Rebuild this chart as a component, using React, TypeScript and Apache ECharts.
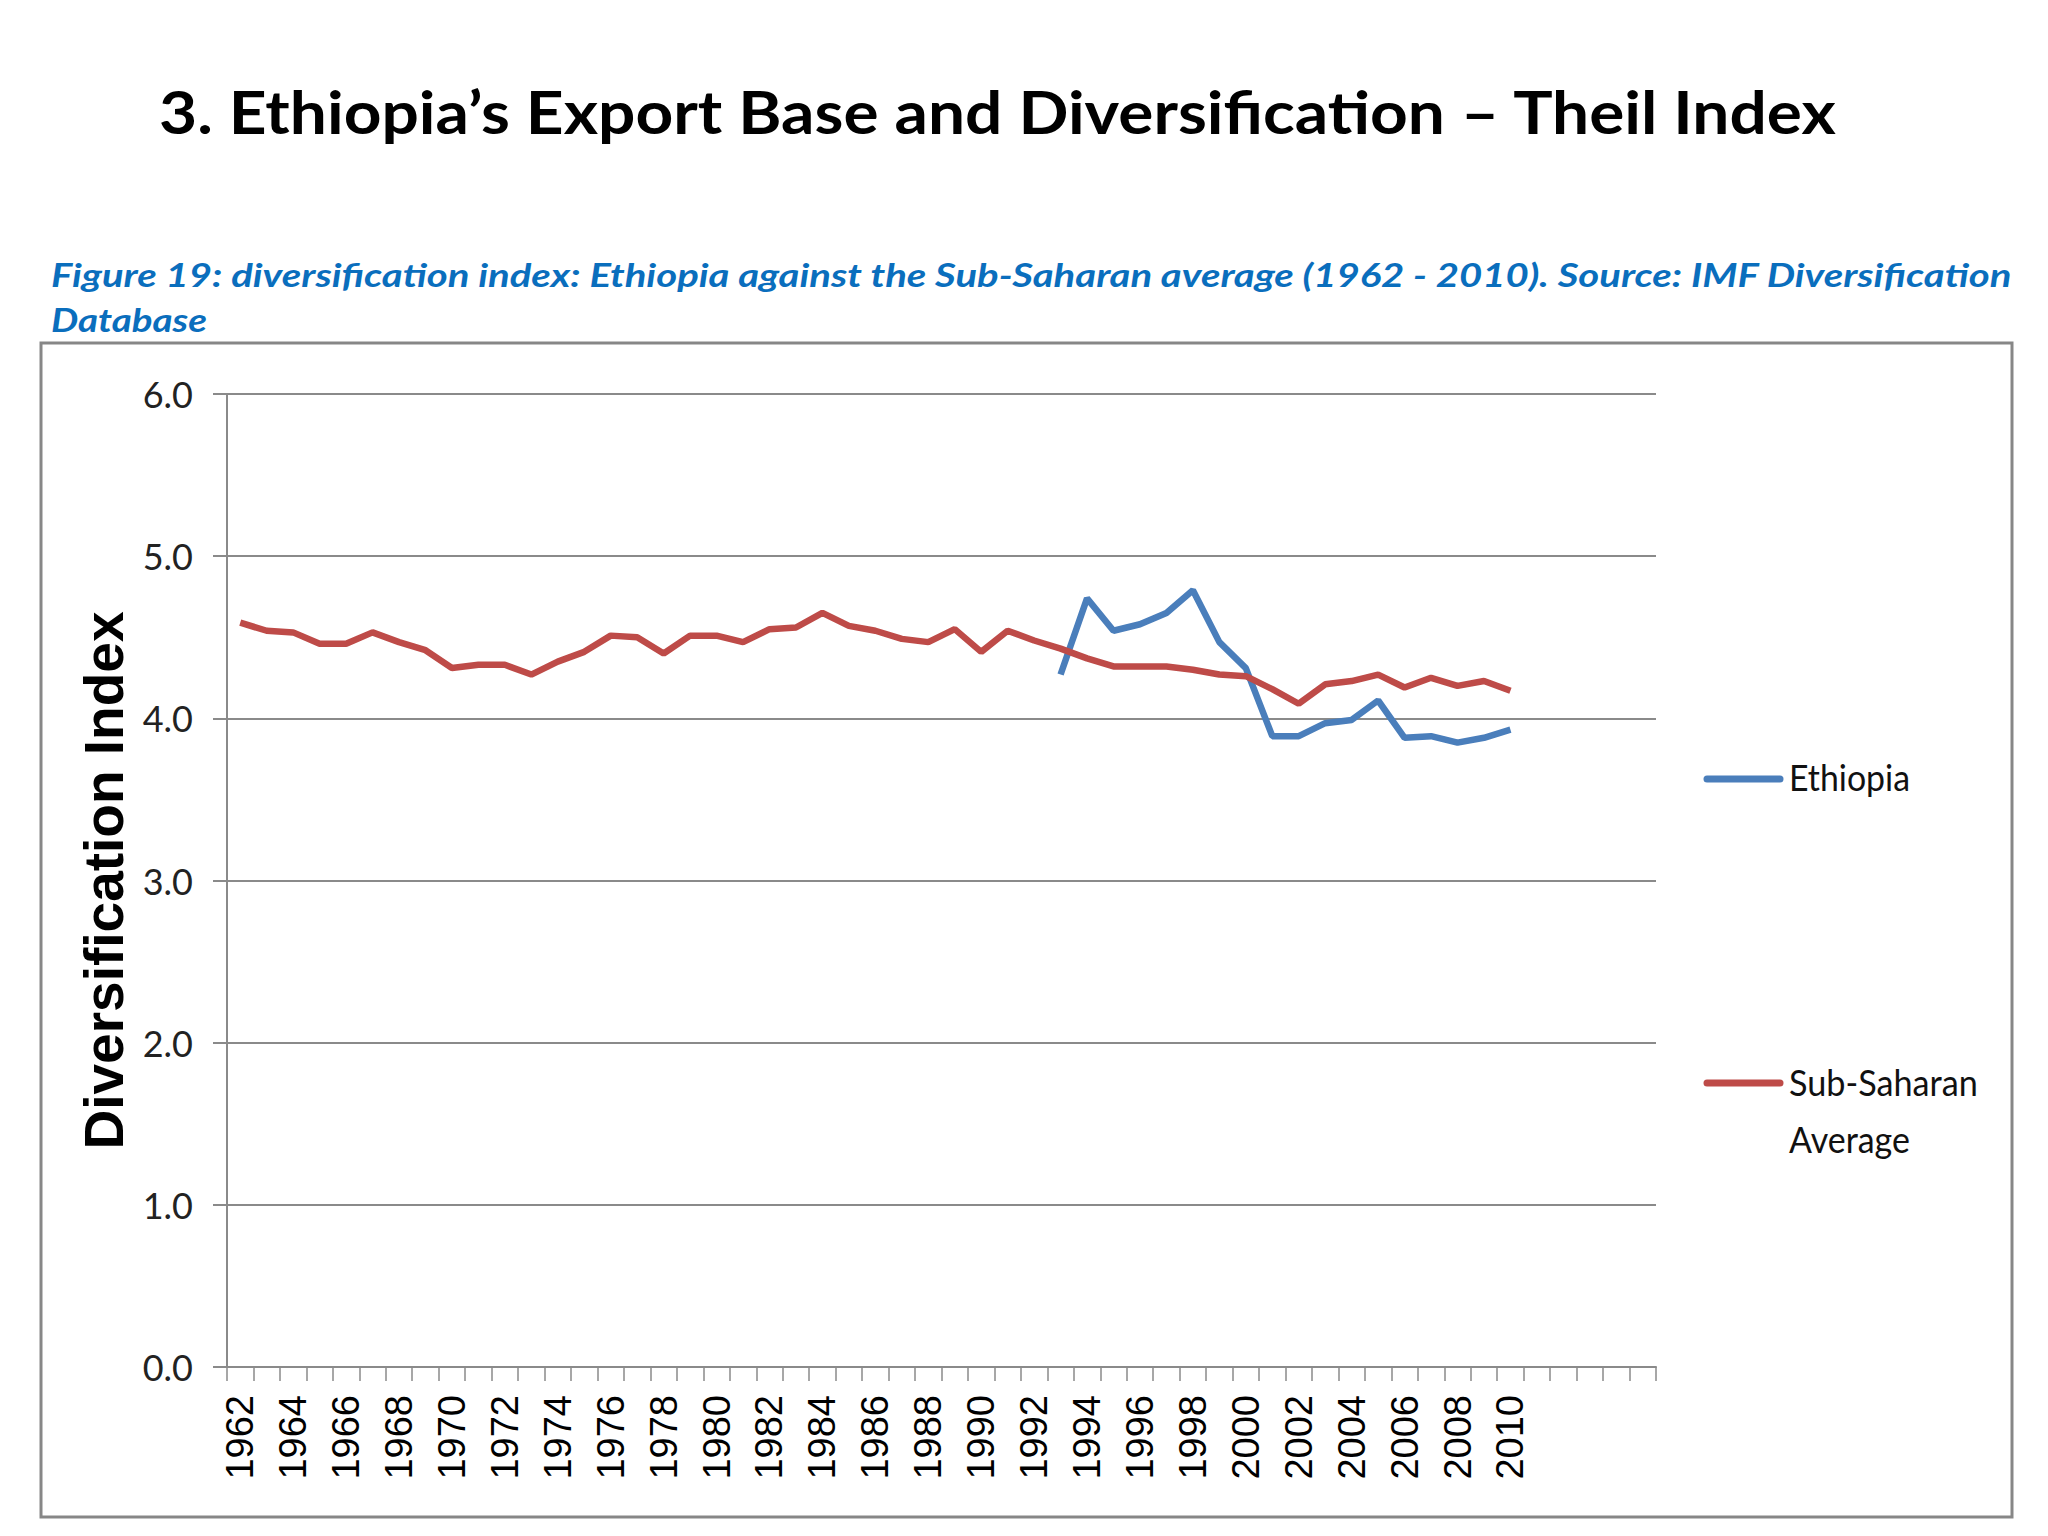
import React, { useEffect, useRef } from "react";
import * as echarts from "echarts";

// Category axis: one slot per year; the slots after 2010 stay unlabelled.
const years = [
  "1962", "1963", "1964", "1965", "1966", "1967", "1968", "1969", "1970", "1971",
  "1972", "1973", "1974", "1975", "1976", "1977", "1978", "1979", "1980", "1981",
  "1982", "1983", "1984", "1985", "1986", "1987", "1988", "1989", "1990", "1991",
  "1992", "1993", "1994", "1995", "1996", "1997", "1998", "1999", "2000", "2001",
  "2002", "2003", "2004", "2005", "2006", "2007", "2008", "2009", "2010", "2011",
  "2012", "2013", "2014", "2015",
];
const lastLabelledYear = 2010;

// Sub-Saharan average, 1962 - 2010
const subSaharanYears = [
  "1962", "1963", "1964", "1965", "1966", "1967", "1968", "1969", "1970", "1971",
  "1972", "1973", "1974", "1975", "1976", "1977", "1978", "1979", "1980", "1981",
  "1982", "1983", "1984", "1985", "1986", "1987", "1988", "1989", "1990", "1991",
  "1992", "1993", "1994", "1995", "1996", "1997", "1998", "1999", "2000", "2001",
  "2002", "2003", "2004", "2005", "2006", "2007", "2008", "2009", "2010",
];
const subSaharanValues = [
  4.59, 4.54, 4.53, 4.46, 4.46, 4.53, 4.47, 4.42, 4.31, 4.33,
  4.33, 4.27, 4.35, 4.41, 4.51, 4.5, 4.4, 4.51, 4.51, 4.47,
  4.55, 4.56, 4.65, 4.57, 4.54, 4.49, 4.47, 4.55, 4.41, 4.54,
  4.48, 4.43, 4.37, 4.32, 4.32, 4.32, 4.3, 4.27, 4.26, 4.18,
  4.09, 4.21, 4.23, 4.27, 4.19, 4.25, 4.2, 4.23, 4.17,
];

// Ethiopia, 1993 - 2010
const ethiopiaYears = [
  "1993", "1994", "1995", "1996", "1997", "1998", "1999", "2000", "2001",
  "2002", "2003", "2004", "2005", "2006", "2007", "2008", "2009", "2010",
];
const ethiopiaValues = [
  4.27, 4.74, 4.54, 4.58, 4.65, 4.79, 4.47, 4.31, 3.89,
  3.89, 3.97, 3.99, 4.11, 3.88, 3.89, 3.85, 3.88, 3.93,
];

const titleText = "3. Ethiopia\u2019s Export Base and Diversification \u2013 Theil Index";
const captionLine1 =
  "Figure 19: diversification index: Ethiopia against the Sub-Saharan average (1962 - 2010). Source: IMF Diversification";
const captionLine2 = "Database";
const yAxisTitle = "Diversification Index";
const seriesNames = ["Ethiopia", "Sub-Saharan Average"];

const ETHIOPIA_BLUE = "#4a7ebb";
const SSA_RED = "#be4b48";
const GRID_GRAY = "#8a8a8a";

const TITLE_FONT = "bold 60px Lato";
const CAPTION_FONT = "italic bold 32px Lato";
const LEGEND_FONT = "36px Lato";

// Horizontal scale that makes a string span the given width in the given font.
function fitScale(text: string, font: string, width: number): number {
  const ctx = document.createElement("canvas").getContext("2d");
  if (!ctx) return 1;
  ctx.font = font;
  const w = ctx.measureText(text).width;
  return w > 0 ? width / w : 1;
}

function squeezedText(text: string, font: string, x: number, y: number, width: number, fill: string) {
  return {
    type: "text",
    x,
    y,
    scaleX: fitScale(text, font, width),
    scaleY: 1,
    style: { text, font, fill, textAlign: "left", textVerticalAlign: "middle", verticalAlign: "middle" },
  };
}

export default function App() {
  const ref = useRef<HTMLDivElement>(null);

  useEffect(() => {
    if (!ref.current) return;
    const chart = echarts.init(ref.current, undefined, { renderer: "svg" });

    const option = {
      animation: false,
      backgroundColor: "#ffffff",
      grid: { left: 227, top: 394, width: 1429, height: 973, containLabel: false },
      xAxis: {
        type: "category",
        data: years,
        boundaryGap: true,
        axisLine: { show: true, lineStyle: { color: GRID_GRAY, width: 2 } },
        axisTick: { show: true, interval: 0, length: 14, lineStyle: { color: GRID_GRAY, width: 1.5 } },
        axisLabel: {
          interval: (i: number, v: string) => i % 2 === 0 && Number(v) <= lastLabelledYear,
          rotate: 90,
          margin: 28,
          fontFamily: "Liberation Sans",
          fontSize: 38,
          color: "#000000",
        },
        splitLine: { show: false },
      },
      yAxis: {
        type: "value",
        min: 0,
        max: 6,
        interval: 1,
        axisLine: { show: true, lineStyle: { color: GRID_GRAY, width: 2 } },
        axisTick: { show: true, length: 14, lineStyle: { color: GRID_GRAY, width: 2 } },
        splitLine: { show: true, lineStyle: { color: GRID_GRAY, width: 2 } },
        axisLabel: {
          formatter: (v: number) => v.toFixed(1),
          margin: 34,
          fontFamily: "Lato",
          fontSize: 36,
          color: "#222222",
        },
        name: yAxisTitle,
        nameLocation: "middle",
        nameRotate: 90,
        nameGap: 94,
        nameTextStyle: {
          fontFamily: "Liberation Sans",
          fontWeight: "bold",
          fontSize: 55,
          color: "#000000",
        },
      },
      legend: { show: false },
      series: [
        {
          name: seriesNames[0],
          type: "line",
          data: ethiopiaYears.map((y, i) => [y, ethiopiaValues[i]]),
          symbol: "none",
          lineStyle: { color: ETHIOPIA_BLUE, width: 6.5 },
          itemStyle: { color: ETHIOPIA_BLUE },
        },
        {
          name: seriesNames[1],
          type: "line",
          data: subSaharanYears.map((y, i) => [y, subSaharanValues[i]]),
          symbol: "none",
          lineStyle: { color: SSA_RED, width: 6.5 },
          itemStyle: { color: SSA_RED },
        },
      ],
      graphic: [
        // chart frame
        {
          type: "rect",
          z: -10,
          shape: { x: 41, y: 343, width: 1971, height: 1174 },
          style: { fill: "none", stroke: "#878787", lineWidth: 3 },
        },
        squeezedText(titleText, TITLE_FONT, 159, 111, 1679, "#000000"),
        squeezedText(captionLine1, CAPTION_FONT, 51, 275, 1962, "#0a6ebd"),
        squeezedText(captionLine2, CAPTION_FONT, 51, 320, 156, "#0a6ebd"),
        // legend
        {
          type: "line",
          shape: { x1: 1707, y1: 779, x2: 1780, y2: 779 },
          style: { stroke: ETHIOPIA_BLUE, lineWidth: 7, lineCap: "round" },
        },
        squeezedText(seriesNames[0], LEGEND_FONT, 1789, 777, 121, "#111111"),
        {
          type: "line",
          shape: { x1: 1707, y1: 1083, x2: 1780, y2: 1083 },
          style: { stroke: SSA_RED, lineWidth: 7, lineCap: "round" },
        },
        squeezedText("Sub-Saharan", LEGEND_FONT, 1789, 1082, 189, "#111111"),
        squeezedText("Average", LEGEND_FONT, 1789, 1139, 121, "#111111"),
      ],
    };

    chart.setOption(option as any);
    return () => chart.dispose();
  }, []);

  return (
    <div
      ref={ref}
      style={{ position: "absolute", left: 0, top: 0, width: 2048, height: 1536 }}
    />
  );
}
